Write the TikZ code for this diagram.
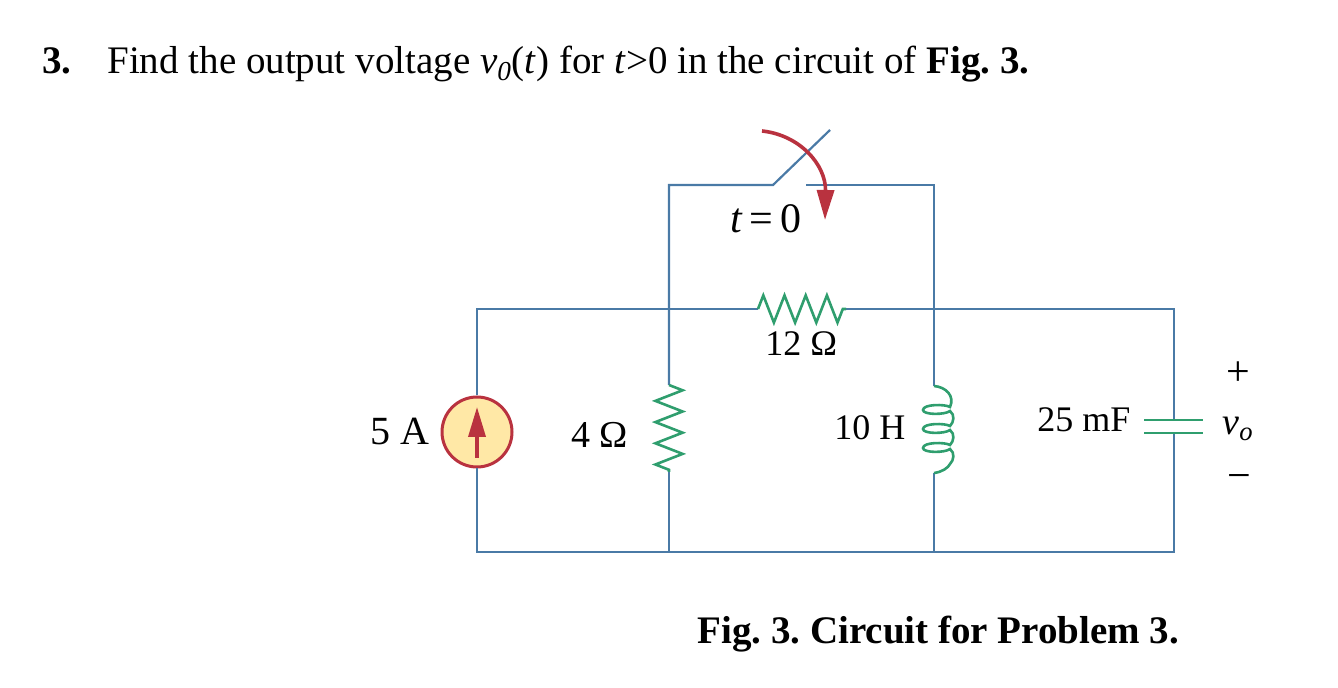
\documentclass[tikz,border=0pt]{standalone}
\usepackage{fontspec}
\setmainfont{Liberation Serif}
\usetikzlibrary{arrows.meta,decorations.pathmorphing}
\definecolor{wireblue}{HTML}{4A7AA6}
\definecolor{partgreen}{HTML}{2F9E6E}
\definecolor{srcred}{HTML}{B9323F}
\definecolor{srcyellow}{HTML}{FFE8A6}
\frenchspacing
\begin{document}
\begin{tikzpicture}[x=0.5pt,y=-0.5pt]
  \tikzstyle{wire} = [draw=wireblue, line width=1.1pt]
  \tikzstyle{part} = [draw=partgreen, line width=1.3pt]
  \tikzstyle{resistor} = [part, decorate, decoration={zigzag, segment length=10.6pt, amplitude=6.8pt}]
  \tikzstyle{source} = [circle, draw=srcred, fill=srcyellow, line width=1.5pt, minimum size=35pt, inner sep=0pt]
  \tikzstyle{arrow} = [draw=srcred, line width=1.8pt, -{Triangle[length=15pt,width=8.5pt]}]
  \tikzstyle{label} = [anchor=base west, inner sep=0pt, font=\fontsize{18}{20}\selectfont]
  \tikzstyle{heading} = [anchor=base west, inner sep=0pt, font=\fontsize{19.5}{22}\selectfont]

  \useasboundingbox (0,0) rectangle (1338,688);

  \node (num) [heading] at (42,74) {\textbf{3.}};
  \node (problem) [heading] at (107,74) {Find the output voltage \textit{v\textsubscript{0}}(\textit{t}) for \textit{t}>0 in the circuit of \textbf{Fig. 3.}};
  \node (caption) [heading] at (697,644) {\textbf{Fig. 3. Circuit for Problem 3.}};

  % corners and junctions
  \coordinate (tl) at (477,309);
  \coordinate (tr) at (1174,309);
  \coordinate (bl) at (477,552);
  \coordinate (br) at (1174,552);
  \coordinate (swl) at (669,185);
  \coordinate (swr) at (934,185);
  \coordinate (swa) at (773,185);
  \coordinate (swb) at (806,185);
  \coordinate (swtip) at (830,130);
  \coordinate (rabot) at (669,552);
  \coordinate (indbot) at (934,552);

  % parts
  \coordinate (r12a) at (758,309);
  \coordinate (r12b) at (846,309);
  \coordinate (r4a) at (669,385);
  \coordinate (r4b) at (669,472);
  \coordinate (inda) at (934,386);
  \coordinate (indb) at (934,473);
  \coordinate (capa) at (1174,420);
  \coordinate (capb) at (1174,433);
  \coordinate (capal) at (1144,420);
  \coordinate (capar) at (1203,420);
  \coordinate (capbl) at (1144,433);
  \coordinate (capbr) at (1203,433);
  \coordinate (stema) at (477,458);
  \coordinate (stemb) at (477,407);
  \coordinate (swarrowa) at (762,131);
  \coordinate (swarrowb) at (825,220);

  \node (src) [source] at (477,432) {};

  \draw [wire] (src) -- (tl) -- (r12a);
  \draw [wire] (r12b) -- (tr) -- (capa);
  \draw [wire] (capb) -- (br) -- (bl) -- (src);
  \draw [wire] (r4a) -- (swl) -- (swa) -- (swtip);
  \draw [wire] (swb) -- (swr) -- (inda);
  \draw [wire] (r4b) -- (rabot);
  \draw [wire] (indb) -- (indbot);

  \draw [resistor] (r12a) -- (r12b);
  \draw [resistor] (r4a) -- (r4b);
  % coil, one turn per loop
  \draw [part] (inda) .. controls (946,387) and (955,396) .. (950,407)
    \foreach \c in {410,429,448} {
      .. controls (945,\c-6) and (923,\c-6) .. (923,\c)
      .. controls (923,\c+5) and (945,\c+5) .. (950,\c+1)
      .. controls (955,\c+5) and (954,\c+12) .. (950,\c+16)
    }
    .. controls (948,468) and (942,472) .. (indb);
  \draw [part] (capal) -- (capar);
  \draw [part] (capbl) -- (capbr);

  \draw [arrow] (stema) -- (stemb);
  % switch arm sweep
  \draw [arrow] (swarrowa) .. controls (800,135) and (826,165) .. (swarrowb);

  \node (srclabel) [label, font=\fontsize{20}{22}\selectfont] at (370,445) {5 A};
  \node (r4label) [label, font=\fontsize{19}{22}\selectfont] at (571,448) {4 Ω};
  \node (r12label) [label] at (765,356) {12 Ω};
  \node (indlabel) [label] at (834,440) {10 H};
  \node (caplabel) [label] at (1037,432) {25 mF};
  \node (swlabel) [label, font=\fontsize{21}{22}\selectfont] at (730,233) {\textit{t}\,=\,0};
  \node (plus) [label, font=\fontsize{21}{22}\selectfont] at (1226,386) {+};
  \node (vo) [label, font=\fontsize{19}{22}\selectfont] at (1222,435) {\textit{v}\textsubscript{\textit{o}}};
  \node (minus) [label, font=\fontsize{21}{22}\selectfont] at (1227,490) {\textminus};
\end{tikzpicture}
\end{document}
